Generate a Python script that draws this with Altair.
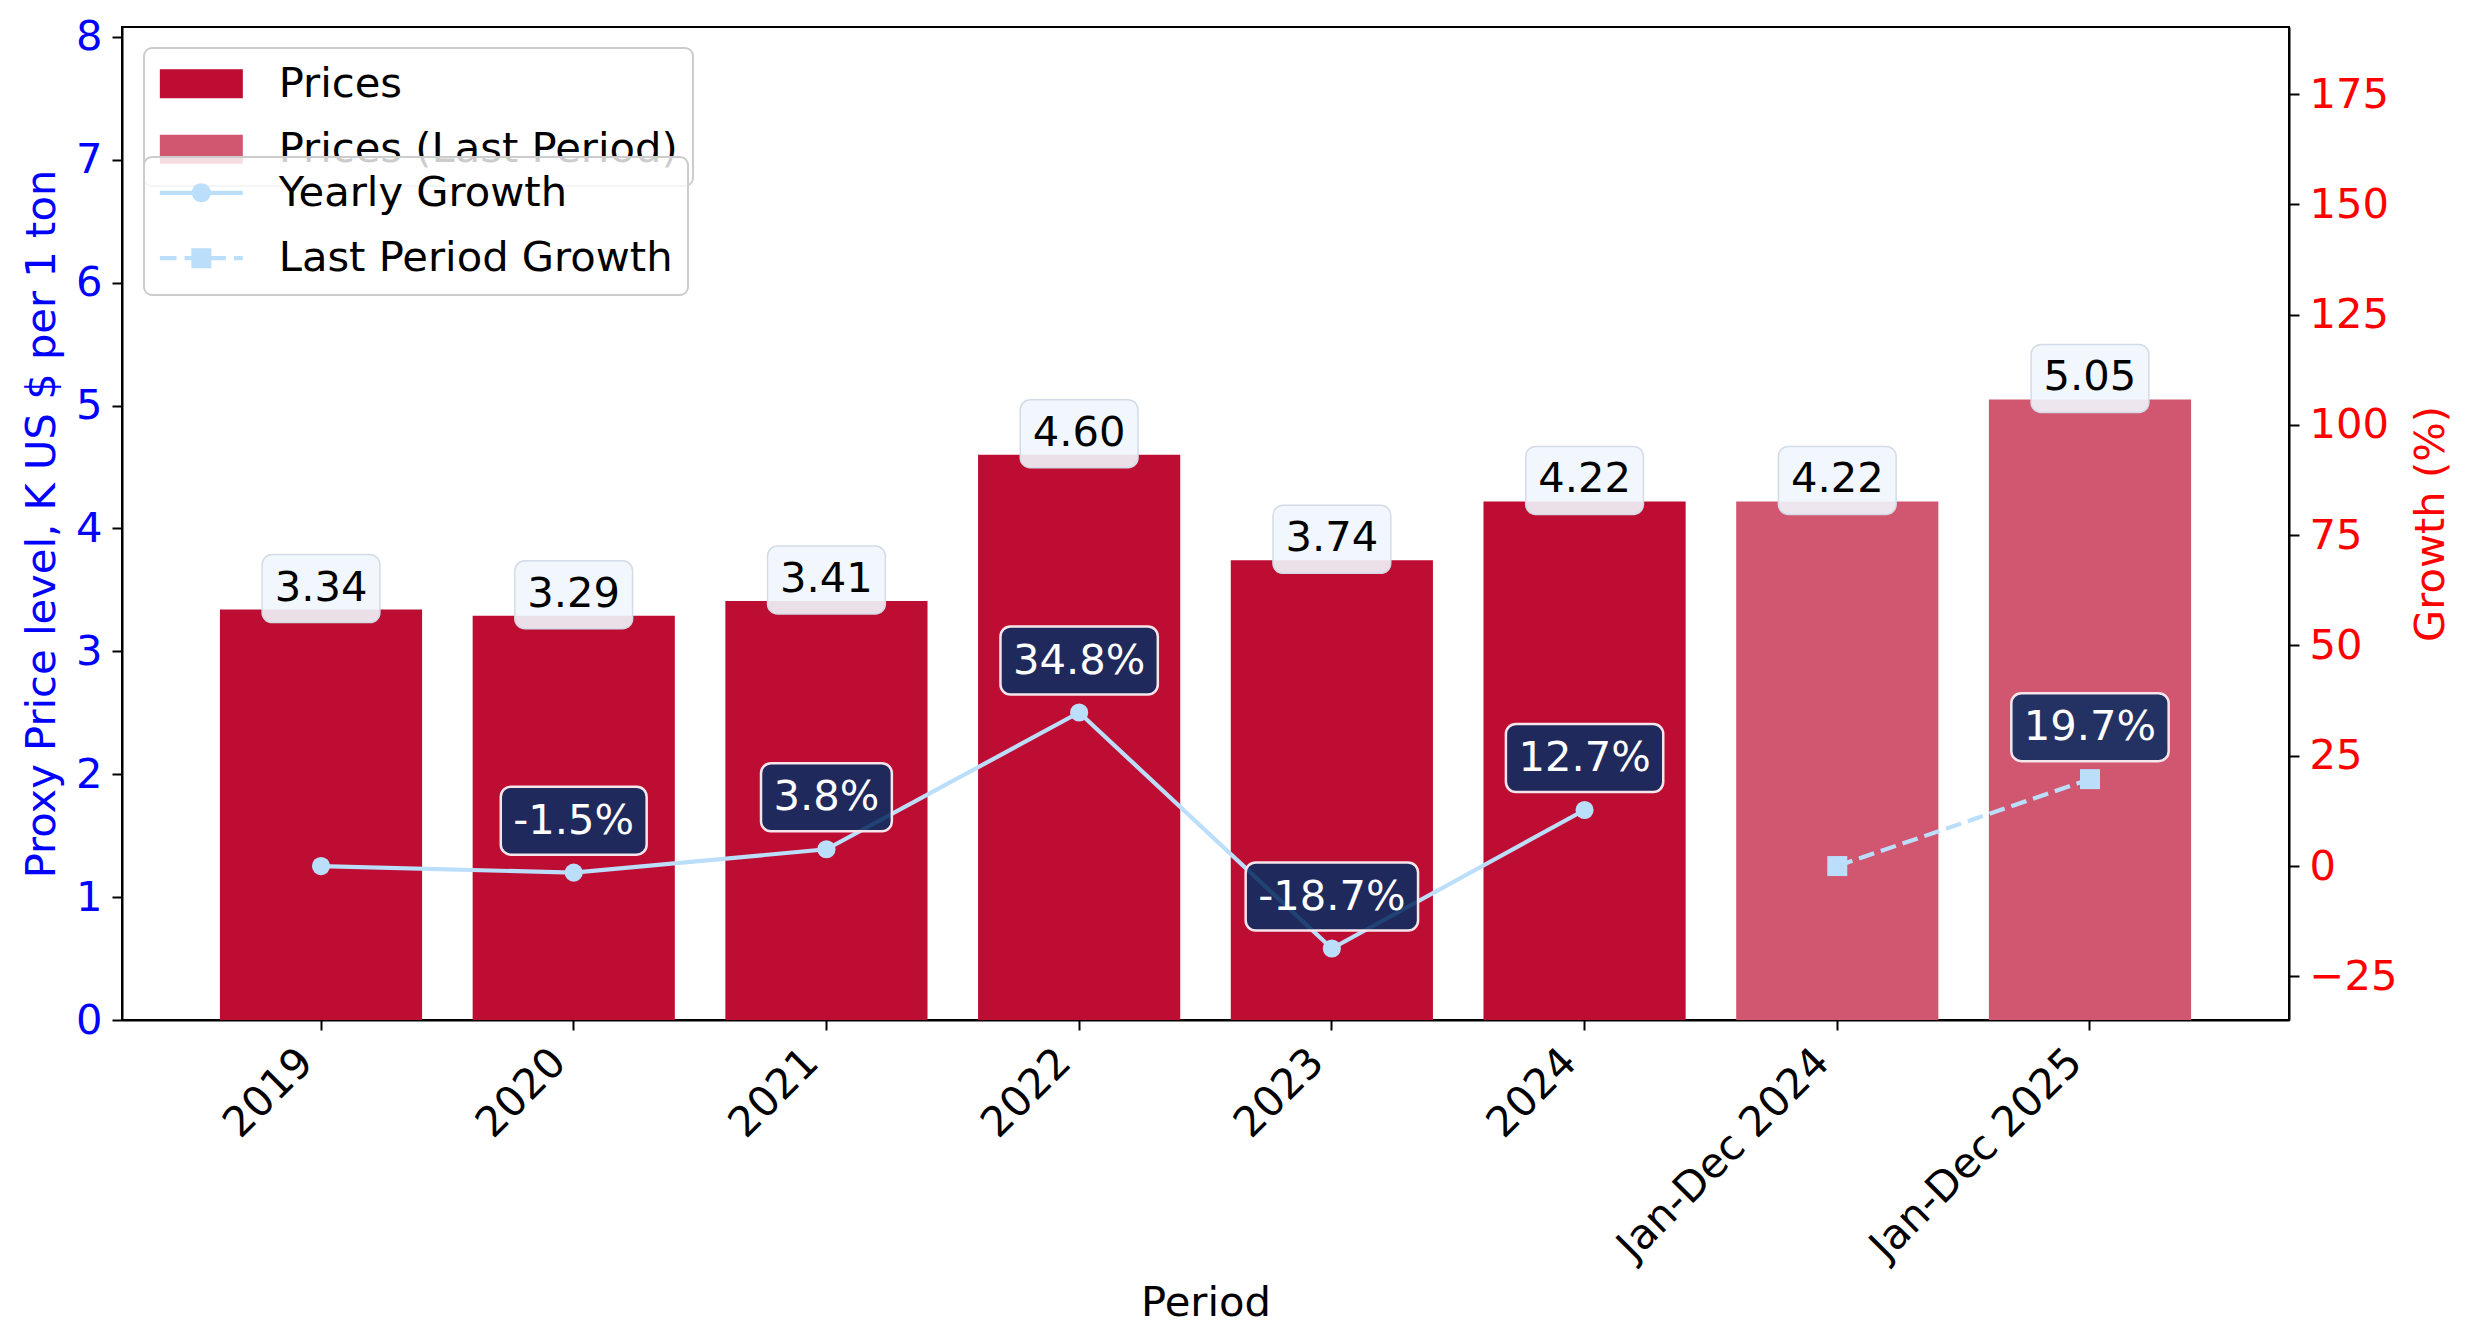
import altair as alt
import pandas as pd

# ---------------- data ----------------
periods = ["2019", "2020", "2021", "2022", "2023", "2024", "Jan-Dec 2024", "Jan-Dec 2025"]
prices = [3.34, 3.29, 3.41, 4.60, 3.74, 4.22, 4.22, 5.05]
price_series = ["Prices"] * 6 + ["Prices (Last Period)"] * 2

yearly_periods = ["2019", "2020", "2021", "2022", "2023", "2024"]
yearly_growth = [0.0, -1.5, 3.8, 34.8, -18.7, 12.7]
last_periods = ["Jan-Dec 2024", "Jan-Dec 2025"]
last_growth = [0.0, 19.7]

left_ticks = [0, 1, 2, 3, 4, 5, 6, 7, 8]
right_ticks = [-25, 0, 25, 50, 75, 100, 125, 150, 175]
legend_bars = ["Prices", "Prices (Last Period)"]
legend_lines = ["Yearly Growth", "Last Period Growth"]

# ---------------- style ----------------
FONT = "DejaVu Sans"
FS = 41.67
BAR = "#BE0D32"
BAR_LAST = "#D1566F"
LINE = "#BBDEFB"
NAVY = "#0A2E62"
BOX_LIGHT = "#F0F6FC"
LW = 4.2

EM = {"0": .636, "1": .636, "2": .636, "3": .636, "4": .636, "5": .636, "6": .636,
      "7": .636, "8": .636, "9": .636, ".": .318, "%": .95, "-": .361}


def box_w(s):
    return sum(EM.get(c, .636) for c in s) * FS + 25


price_df = pd.DataFrame({"period": periods, "price": prices, "series": price_series})
price_df["label"] = [f"{v:.2f}" for v in prices]
price_df["box_w"] = [box_w(s) for s in price_df["label"]]

growth_df = pd.DataFrame({
    "period": yearly_periods + last_periods,
    "growth": yearly_growth + last_growth,
    "series": ["Yearly Growth"] * len(yearly_periods) + ["Last Period Growth"] * len(last_periods),
})
growth_df["label"] = [f"{v:.1f}%" for v in growth_df["growth"]]
growth_df["box_w"] = [box_w(s) for s in growth_df["label"]]
yearly_df = growth_df[growth_df["series"] == "Yearly Growth"]
last_df = growth_df[growth_df["series"] == "Last Period Growth"]
label_df = growth_df[growth_df["growth"] != 0]


# legend symbol paths (unit = 10 px with symbolSize 400); all parts are filled shapes
def seg(x0, x1, h=0.21):
    return f"M{x0:.3f},{-h:.3f}L{x1:.3f},{-h:.3f}L{x1:.3f},{h:.3f}L{x0:.3f},{h:.3f}Z"


bar_path = seg(-2, 6.3, 1.45)
cx, R = 2.15, 0.95
k = 0.5523 * R
circle_path = seg(-2, 6.3) + (
    f"M{cx - R:.3f},0"
    f"C{cx - R:.3f},{-k:.3f} {cx - k:.3f},{-R:.3f} {cx:.3f},{-R:.3f}"
    f"C{cx + k:.3f},{-R:.3f} {cx + R:.3f},{-k:.3f} {cx + R:.3f},0"
    f"C{cx + R:.3f},{k:.3f} {cx + k:.3f},{R:.3f} {cx:.3f},{R:.3f}"
    f"C{cx - k:.3f},{R:.3f} {cx - R:.3f},{k:.3f} {cx - R:.3f},0Z"
)
SQ = 1.0
square_path = (seg(-2, -0.33) + seg(0.47, 2.14) + seg(2.94, 4.61) + seg(5.41, 6.3)
               + f"M{cx - SQ:.3f},{-SQ:.3f}L{cx + SQ:.3f},{-SQ:.3f}L{cx + SQ:.3f},{SQ:.3f}L{cx - SQ:.3f},{SQ:.3f}Z")

W, H = 2167, 993

# ---------------- encodings ----------------
x_enc = alt.X(
    "period:N", sort=periods,
    scale=alt.Scale(domain=periods, paddingInner=0.2, paddingOuter=0.3875),
    axis=alt.Axis(title="Period", labelAngle=315, labelAlign="right", labelBaseline="middle",
                  labelOffset=-15, labelPadding=25, labelLimit=1000, bandPosition=0.5,
                  titleY=282, titleBaseline="middle", grid=False),
)

yL = alt.Y(
    "price:Q",
    scale=alt.Scale(domain=[0, 8.08], nice=False, zero=False),
    axis=alt.Axis(title="Proxy Price level, K US $ per 1 ton", orient="left", values=left_ticks,
                  labelColor="#0000FF", titleColor="#0000FF", grid=False,
                  titleX=-81, titleY=H / 2, titleAngle=270, titleBaseline="middle", titleAlign="center"),
)

yR = alt.Y(
    "growth:Q",
    scale=alt.Scale(domain=[-34.9, 190.2], nice=False, zero=False),
    axis=alt.Axis(title="Growth (%)", orient="right", values=right_ticks,
                  labelColor="#FF0000", titleColor="#FF0000", grid=False,
                  labelExpr="replace(datum.label, '-', '\u2212')",
                  titleX=141, titleY=H / 2, titleAngle=270, titleBaseline="middle", titleAlign="center"),
)

common_legend = dict(
    title=None, orient="none", direction="vertical", labelFont=FONT, labelFontSize=FS,
    labelColor="black", labelLimit=1000, labelOffset=78, fillColor="rgba(255,255,255,0.8)",
    strokeColor="#CCCCCC", cornerRadius=8, padding=15, rowPadding=22.3, symbolSize=400,
    symbolStrokeWidth=0,
)

bars = alt.Chart(price_df).mark_bar().encode(
    x=x_enc, y=yL,
    color=alt.Color(
        "series:N",
        scale=alt.Scale(domain=legend_bars, range=[BAR, BAR_LAST]),
        legend=alt.Legend(legendX=22, legendY=21, symbolType=bar_path, **common_legend),
    ),
)

pbox = alt.Chart(price_df).mark_bar(
    yOffset=-55, y2Offset=13, cornerRadius=10, fill=BOX_LIGHT, fillOpacity=0.9,
    stroke="#D3DCE6", strokeWidth=1.5,
).encode(x=x_enc, y=yL, y2=alt.Y2("price:Q"), size=alt.Size("box_w:Q", scale=None, legend=None))

ptext = alt.Chart(price_df).mark_text(
    dy=-22, baseline="middle", align="center", color="black", font=FONT, fontSize=FS,
).encode(x=x_enc, y=yL, text="label:N")

yline = alt.Chart(yearly_df).mark_line(color=LINE, strokeWidth=LW).encode(x=x_enc, y=yR)
lline = alt.Chart(last_df).mark_line(color=LINE, strokeWidth=LW, strokeDash=[16, 7]).encode(x=x_enc, y=yR)
ypts = alt.Chart(yearly_df).mark_point(filled=True, shape="circle", size=330, color=LINE, opacity=1).encode(x=x_enc, y=yR)
lpts = alt.Chart(last_df).mark_point(filled=True, shape="square", size=400, color=LINE, opacity=1).encode(x=x_enc, y=yR)

legend_layer = alt.Chart(growth_df).mark_point(filled=True, opacity=0, color=LINE).encode(
    x=x_enc, y=yR,
    shape=alt.Shape(
        "series:N",
        scale=alt.Scale(domain=legend_lines, range=[circle_path, square_path]),
        legend=alt.Legend(legendX=22, legendY=130, symbolOpacity=1, symbolFillColor=LINE,
                          **common_legend),
    ),
)

gbox = alt.Chart(label_df).mark_bar(
    yOffset=-86, y2Offset=-18, cornerRadius=10, fill=NAVY, fillOpacity=0.88,
    stroke="#F6E6EC", strokeWidth=2.5,
).encode(x=x_enc, y=yR, y2=alt.Y2("growth:Q"), size=alt.Size("box_w:Q", scale=None, legend=None))

gtext = alt.Chart(label_df).mark_text(
    dy=-52, baseline="middle", align="center", color="white", font=FONT, fontSize=FS,
).encode(x=x_enc, y=yR, text="label:N")

left = alt.layer(bars, pbox, ptext)
right = alt.layer(yline, lline, ypts, lpts, legend_layer, gbox, gtext)

chart = (
    alt.layer(left, right)
    .resolve_scale(y="independent")
    .properties(
        width=W, height=H,
        autosize=alt.AutoSizeParams(type="none"),
        padding={"left": 122, "top": 27, "right": 2473 - 122 - W, "bottom": 1344 - 27 - H},
        background="white",
    )
    .configure(font=FONT)
    .configure_view(stroke="black", strokeWidth=2)
    .configure_axis(
        labelFont=FONT, titleFont=FONT, labelFontSize=FS, titleFontSize=FS,
        titleFontWeight="normal", domainColor="black", domainWidth=2,
        tickColor="black", tickWidth=2, tickSize=10, labelPadding=10,
        labelColor="black", titleColor="black",
    )
    .configure_legend(strokeWidth=2)
)

chart.save("out.html", embed_options={"renderer": "svg", "actions": False})
